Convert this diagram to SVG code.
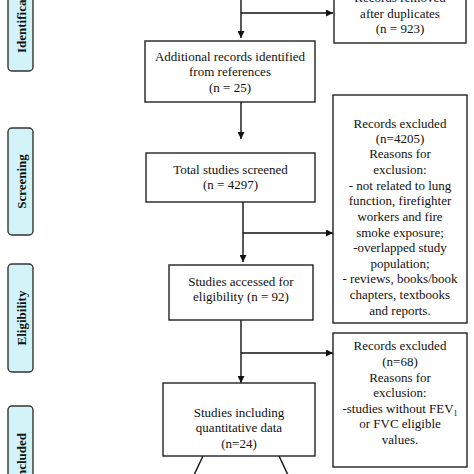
<svg xmlns="http://www.w3.org/2000/svg" width="474" height="474" viewBox="0 0 474 474">
<style>
.box{fill:#fff;stroke:#222;stroke-width:1.4}
.lab{fill:#d2f4f8;stroke:#333;stroke-width:1.4}
.t{font-family:"Liberation Serif","Times New Roman",serif;font-size:13px;fill:#111;text-anchor:middle}
.lt{font-family:"Liberation Serif","Times New Roman",serif;font-size:13px;font-weight:bold;fill:#111}
.ln{fill:none;stroke:#111;stroke-width:1.4}
</style>
<defs>
<marker id="ah" viewBox="0 0 10 10" refX="10" refY="5" markerWidth="7" markerHeight="7" orient="auto" markerUnits="userSpaceOnUse">
<path d="M0,0 L10,5 L0,10 z" fill="#111"/>
</marker>
</defs>
<g id="connectors">
<path class="ln" d="M241,0 V38" marker-end="url(#ah)"/>
<path class="ln" d="M241,13 H333" marker-end="url(#ah)"/>
<path class="ln" d="M241,102 V139" marker-end="url(#ah)"/>
<path class="ln" d="M243,202 V262" marker-end="url(#ah)"/>
<path class="ln" d="M243,233 H333" marker-end="url(#ah)"/>
<path class="ln" d="M241,320 V383" marker-end="url(#ah)"/>
<path class="ln" d="M241,353 H333" marker-end="url(#ah)"/>
<path class="ln" d="M203,456 L194,475"/>
<path class="ln" d="M279,456 L288,475"/>
</g>
<g id="lab-identification">
<rect class="lab" x="8" y="-20" width="25" height="91" rx="4"/>
<text class="lt" transform="translate(25.5,53) rotate(-90)">Identification</text>
</g>
<g id="lab-screening">
<rect class="lab" x="8" y="128" width="25" height="107" rx="4"/>
<text class="lt" text-anchor="middle" transform="translate(25.5,181.5) rotate(-90)">Screening</text>
</g>
<g id="lab-eligibility">
<rect class="lab" x="8" y="264" width="25" height="108" rx="4"/>
<text class="lt" text-anchor="middle" transform="translate(25.5,318) rotate(-90)">Eligibility</text>
</g>
<g id="lab-included">
<rect class="lab" x="8" y="406" width="25" height="90" rx="4"/>
<text class="lt" text-anchor="end" transform="translate(25.5,433) rotate(-90)">Included</text>
</g>
<g id="n-duplicates">
<rect class="box" x="334" y="-20" width="132" height="63"/>
<text class="t" x="400" y="2">Records removed</text>
<text class="t" x="400" y="17.5">after duplicates</text>
<text class="t" x="400" y="32.5">(n = 923)</text>
</g>
<g id="n-additional">
<rect class="box" x="145" y="41" width="170" height="61"/>
<text class="t" x="230" y="61">Additional records identified</text>
<text class="t" x="230" y="76">from references</text>
<text class="t" x="230" y="92">(n = 25)</text>
</g>
<g id="n-screened">
<rect class="box" x="146" y="153" width="169" height="49"/>
<text class="t" x="230.5" y="173.5">Total studies screened</text>
<text class="t" x="230.5" y="188.5">(n = 4297)</text>
</g>
<g id="n-excluded1">
<rect class="box" x="333" y="95" width="134" height="228"/>
<text class="t" x="400" y="127.5">Records excluded</text>
<text class="t" x="400" y="143">(n=4205)</text>
<text class="t" x="400" y="158">Reasons for</text>
<text class="t" x="400" y="173.5">exclusion:</text>
<text class="t" x="400" y="189.5">- not related to lung</text>
<text class="t" x="400" y="205">function, firefighter</text>
<text class="t" x="400" y="220.5">workers and fire</text>
<text class="t" x="400" y="236.5">smoke exposure;</text>
<text class="t" x="400" y="251.5">-overlapped study</text>
<text class="t" x="400" y="267.5">population;</text>
<text class="t" x="400" y="283">- reviews, books/book</text>
<text class="t" x="400" y="298.5">chapters, textbooks</text>
<text class="t" x="400" y="314.5">and reports.</text>
</g>
<g id="n-eligibility">
<rect class="box" x="169" y="265" width="144" height="55"/>
<text class="t" x="241" y="285.5">Studies accessed for</text>
<text class="t" x="241" y="300.5">eligibility (n = 92)</text>
</g>
<g id="n-excluded2">
<rect class="box" x="333" y="333" width="134" height="134"/>
<text class="t" x="400" y="349.5">Records excluded</text>
<text class="t" x="400" y="365.5">(n=68)</text>
<text class="t" x="400" y="381.5">Reasons for</text>
<text class="t" x="400" y="396.5">exclusion:</text>
<text class="t" x="400" y="412.5">-studies without FEV<tspan font-size="8" dy="3">1</tspan></text>
<text class="t" x="400" y="427.5">or FVC eligible</text>
<text class="t" x="400" y="443.5">values.</text>
</g>
<g id="n-included">
<rect class="box" x="163" y="383" width="152" height="73"/>
<text class="t" x="239" y="416.5">Studies including</text>
<text class="t" x="239" y="432">quantitative data</text>
<text class="t" x="239" y="447.5">(n=24)</text>
</g>
</svg>
